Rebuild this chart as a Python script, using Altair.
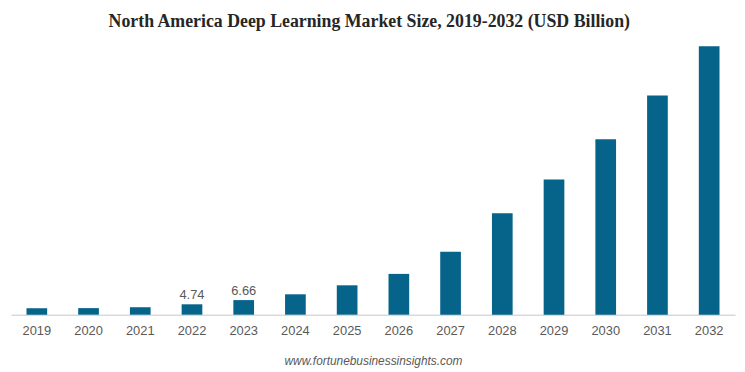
import altair as alt
import pandas as pd

years = ["2019", "2020", "2021", "2022", "2023", "2024", "2025",
         "2026", "2027", "2028", "2029", "2030", "2031", "2032"]
values = [2.9, 3.0, 3.4, 4.74, 6.66, 9.3, 13.4,
          18.6, 28.7, 46.3, 61.6, 80.0, 99.9, 122.4]
labels = ["", "", "", "4.74", "6.66", "", "",
          "", "", "", "", "", "", ""]
title_text = "North America Deep Learning Market Size, 2019-2032 (USD Billion)"

df = pd.DataFrame({"year": years, "value": values, "label": labels})

x = alt.X("year:N", sort=years,
          scale=alt.Scale(paddingInner=0.6, paddingOuter=0.3),
          axis=alt.Axis(title="www.fortunebusinessinsights.com", labelAngle=0,
                        labelFont="Liberation Sans", labelFontSize=13,
                        labelColor="#595959", labelPadding=10, ticks=False,
                        domainColor="#d9d9d9", domainWidth=1.5,
                        titleFont="Liberation Sans", titleFontStyle="italic",
                        titleFontWeight="normal", titleFontSize=12,
                        titleColor="#595959", titlePadding=18))
y = alt.Y("value:Q", scale=alt.Scale(domain=[0, 125], nice=False, zero=True),
          axis=None)

bars = alt.Chart(df).mark_bar(color="#06638a").encode(x=x, y=y)
text = alt.Chart(df).mark_text(baseline="alphabetic", dy=-5,
                               font="Liberation Sans", fontSize=13,
                               color="#595959").encode(
    x=alt.X("year:N", sort=years), y=y, text="label:N")

title = alt.Chart(pd.DataFrame({"t": [title_text]})).mark_text(
    font="Liberation Serif", fontSize=18, fontWeight="bold",
    color="#262626", align="center", baseline="alphabetic").encode(
    x=alt.value(362), y=alt.value(-14), text="t:N")

chart = alt.layer(bars, text, title).properties(
    width=731.5, height=277,
    autosize=alt.AutoSizeParams(type="none"),
    padding={"left": 3, "top": 31, "right": 2, "bottom": 52},
).configure_view(stroke=None)

chart.save("out.html", embed_options={"renderer": "svg", "actions": False})
